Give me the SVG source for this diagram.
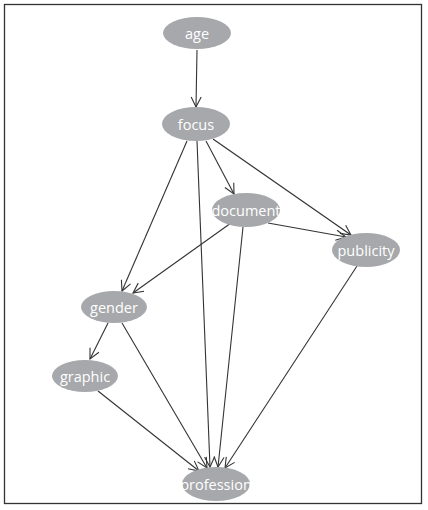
<svg xmlns="http://www.w3.org/2000/svg" width="428" height="510" viewBox="0 0 428 510">
<defs>
<marker id="arr" viewBox="0 0 12 12" refX="11" refY="6" markerWidth="12" markerHeight="12" markerUnits="userSpaceOnUse" orient="auto">
<path d="M1,1 L11,6 L1,11" fill="none" stroke="#333" stroke-width="1.1"/>
</marker>
<style>
.n ellipse{fill:#a6a8ab}
.n text{fill:#fff;font-family:"Open Sans","Liberation Sans",sans-serif;font-size:14.5px;text-anchor:middle;dominant-baseline:central}
.e line{stroke:#333;stroke-width:1.1;marker-end:url(#arr)}
</style>
</defs>
<rect x="4.5" y="4.5" width="417" height="499" fill="#fff" stroke="#333" stroke-width="1.3"/>
<g id="edges" class="e">
<line x1="197" y1="50" x2="196" y2="107"/>
<line x1="206" y1="141" x2="234" y2="194"/>
<line x1="213" y1="139" x2="351" y2="235"/>
<line x1="187" y1="141" x2="122" y2="291"/>
<line x1="197" y1="141" x2="210" y2="467"/>
<line x1="268" y1="223" x2="346" y2="237"/>
<line x1="231" y1="223" x2="133" y2="293"/>
<line x1="243" y1="227" x2="218" y2="467"/>
<line x1="357" y1="266" x2="225" y2="468"/>
<line x1="122" y1="323" x2="207" y2="468"/>
<line x1="108" y1="323" x2="90" y2="359"/>
<line x1="98" y1="391" x2="199" y2="471"/>
</g>
<g id="age" class="n"><ellipse cx="197" cy="33" rx="34" ry="16"/><text x="197" y="33">age</text></g>
<g id="focus" class="n"><ellipse cx="196" cy="124" rx="34" ry="17"/><text x="196" y="124">focus</text></g>
<g id="document" class="n"><ellipse cx="246" cy="210" rx="34" ry="17"/><text x="246" y="210">document</text></g>
<g id="publicity" class="n"><ellipse cx="366" cy="250" rx="34" ry="17"/><text x="366" y="250">publicity</text></g>
<g id="gender" class="n"><ellipse cx="114" cy="307" rx="33" ry="16"/><text x="114" y="307">gender</text></g>
<g id="graphic" class="n"><ellipse cx="85" cy="376" rx="33" ry="16"/><text x="85" y="376">graphic</text></g>
<g id="profession" class="n"><ellipse cx="216" cy="484" rx="34" ry="17"/><text x="216" y="484">profession</text></g>
</svg>
